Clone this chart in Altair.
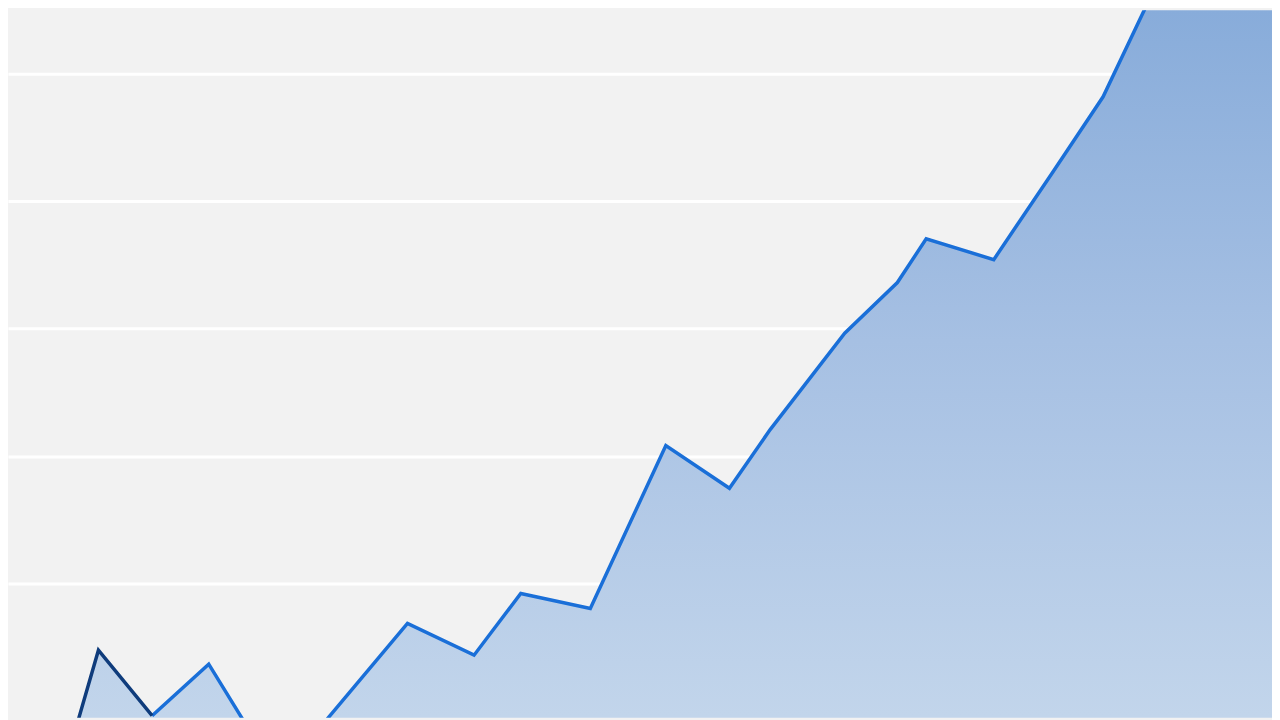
import altair as alt
import pandas as pd

# Series (x = time index, y = value)
x_vals = [65, 99, 153, 210, 280, 410, 477, 524, 594, 670, 734, 775, 850, 903, 932, 1000, 1060, 1110, 1160, 1295]
y_vals = [-4.4, 4.77, -0.37, 3.68, -5.2, 6.88, 4.38, 9.22, 8.05, 20.83, 17.48, 22.08, 29.65, 33.62, 37.05, 35.42, 42.35, 48.2, 56.4, 78.0]
dark_count = 3  # first segment drawn in navy
grid_values = [10, 20, 30, 40, 50]
baseline = -20

df = pd.DataFrame({"x": x_vals, "y": y_vals})
df_dark = df.iloc[:dark_count]
df_blue = df.iloc[dark_count - 1:]

xs = alt.Scale(domain=[8, 1280], nice=False, zero=False)
ys = alt.Scale(domain=[-0.53, 54.99], nice=False, zero=False)

x_enc = alt.X("x:Q", scale=xs, axis=None)
y_enc = alt.Y("y:Q", scale=ys,
              axis=alt.Axis(values=grid_values, grid=True, gridColor="#ffffff", gridWidth=3,
                            domain=False, ticks=False, labels=False, title=None))

area = alt.Chart(df).mark_area(
    clip=True,
    color=alt.Gradient(gradient="linear",
                       stops=[alt.GradientStop(color="#7aa2d6", offset=0),
                              alt.GradientStop(color="#88acda", offset=0.235),
                              alt.GradientStop(color="#a6c0e3", offset=0.5),
                              alt.GradientStop(color="#c2d5eb", offset=0.8),
                              alt.GradientStop(color="#c6d8ed", offset=1)],
                       x1=0, y1=0, x2=0, y2=1),
).encode(x=x_enc, y=y_enc, y2=alt.datum(baseline))

line_blue = alt.Chart(df_blue).mark_line(clip=True, color="#1a6fd8", strokeWidth=3.5,
                                         strokeJoin="miter").encode(
    x=alt.X("x:Q", scale=xs, axis=None), y=alt.Y("y:Q", scale=ys))
line_dark = alt.Chart(df_dark).mark_line(clip=True, color="#0f3c7c", strokeWidth=3.5,
                                         strokeJoin="miter").encode(
    x=alt.X("x:Q", scale=xs, axis=None), y=alt.Y("y:Q", scale=ys))

chart = alt.layer(area, line_blue, line_dark).properties(
    width=1272, height=712, padding=0, background="#f2f2f2"
).configure_view(stroke=None, fill="#f2f2f2")

chart.save("out.html", embed_options={"renderer": "svg", "actions": False})
